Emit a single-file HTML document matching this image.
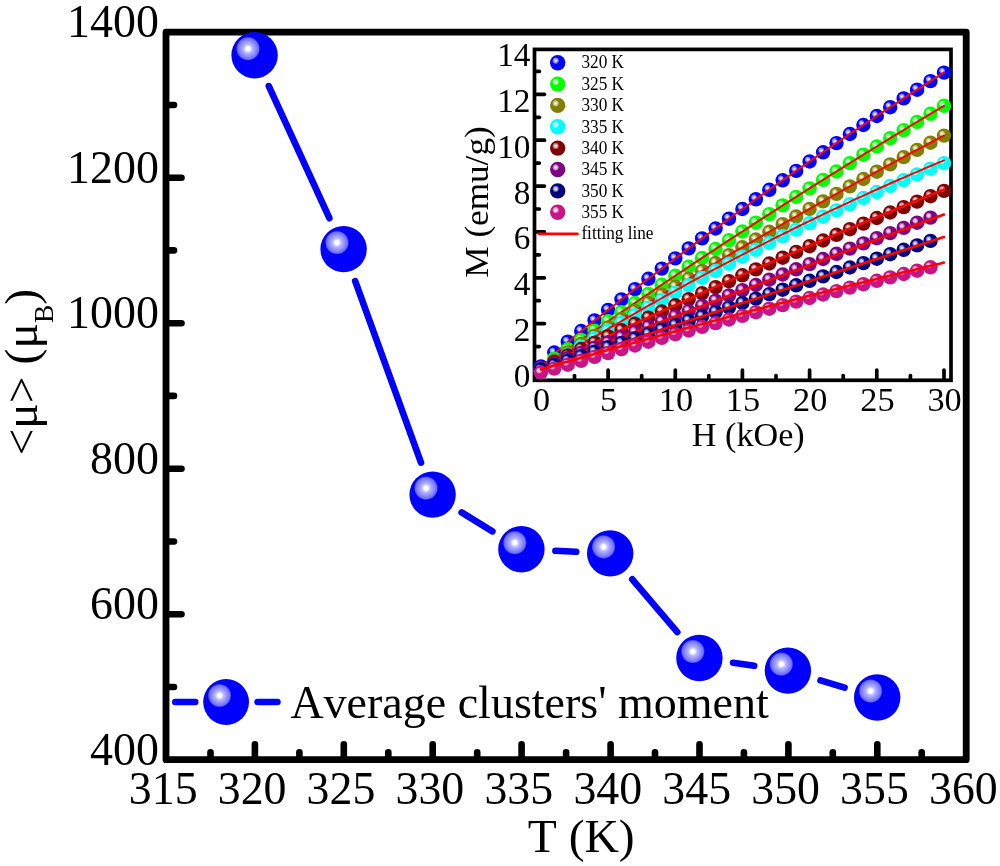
<!DOCTYPE html>
<html lang="en">
<head>
<meta charset="utf-8">
<title>Average clusters' moment vs T</title>
<style>
html,body{margin:0;padding:0;background:#fff;}
body{width:1000px;height:866px;overflow:hidden;}
svg{display:block;filter:blur(0.6px);}
svg text{font-family:"Liberation Serif", "Times New Roman", Times, serif;fill:#000;font-kerning:none;font-variant-ligatures:none;}
</style>
</head>
<body>
<svg width="1000" height="866" viewBox="0 0 1000 866" role="img" aria-label="Average clusters moment versus temperature, with inset M versus H">
<defs>
<radialGradient id="gB" cx="0.358" cy="0.360" r="0.75" fx="0.358" fy="0.360">
<stop offset="0" stop-color="#ffffff"/>
<stop offset="0.055" stop-color="#ffffff"/>
<stop offset="0.125" stop-color="#b8b8ff"/>
<stop offset="0.305" stop-color="#6c6cff"/>
<stop offset="0.345" stop-color="#0000ff"/>
<stop offset="1" stop-color="#0000ff"/>
</radialGradient>
<radialGradient id="g0" cx="0.37" cy="0.365" r="0.75" fx="0.37" fy="0.365">
<stop offset="0" stop-color="#f2f2ff"/>
<stop offset="0.08" stop-color="#d9d9ff"/>
<stop offset="0.25" stop-color="#5959ff"/>
<stop offset="0.30" stop-color="#0000ff"/>
<stop offset="1" stop-color="#0000ff"/>
</radialGradient>
<radialGradient id="g1" cx="0.37" cy="0.365" r="0.75" fx="0.37" fy="0.365">
<stop offset="0" stop-color="#f2fff2"/>
<stop offset="0.08" stop-color="#d9ffd9"/>
<stop offset="0.25" stop-color="#59ff59"/>
<stop offset="0.30" stop-color="#00ff00"/>
<stop offset="1" stop-color="#00ff00"/>
</radialGradient>
<radialGradient id="g2" cx="0.37" cy="0.365" r="0.75" fx="0.37" fy="0.365">
<stop offset="0" stop-color="#f9f9f2"/>
<stop offset="0.08" stop-color="#ececd9"/>
<stop offset="0.25" stop-color="#acac59"/>
<stop offset="0.30" stop-color="#808000"/>
<stop offset="1" stop-color="#808000"/>
</radialGradient>
<radialGradient id="g3" cx="0.37" cy="0.365" r="0.75" fx="0.37" fy="0.365">
<stop offset="0" stop-color="#f2ffff"/>
<stop offset="0.08" stop-color="#d9ffff"/>
<stop offset="0.25" stop-color="#59ffff"/>
<stop offset="0.30" stop-color="#00ffff"/>
<stop offset="1" stop-color="#00ffff"/>
</radialGradient>
<radialGradient id="g4" cx="0.37" cy="0.365" r="0.75" fx="0.37" fy="0.365">
<stop offset="0" stop-color="#f9f2f2"/>
<stop offset="0.08" stop-color="#ecd9d9"/>
<stop offset="0.25" stop-color="#ac5959"/>
<stop offset="0.30" stop-color="#800000"/>
<stop offset="1" stop-color="#800000"/>
</radialGradient>
<radialGradient id="g5" cx="0.37" cy="0.365" r="0.75" fx="0.37" fy="0.365">
<stop offset="0" stop-color="#f9f2f9"/>
<stop offset="0.08" stop-color="#ecd9ec"/>
<stop offset="0.25" stop-color="#ac59ac"/>
<stop offset="0.30" stop-color="#800080"/>
<stop offset="1" stop-color="#800080"/>
</radialGradient>
<radialGradient id="g6" cx="0.37" cy="0.365" r="0.75" fx="0.37" fy="0.365">
<stop offset="0" stop-color="#f2f2f9"/>
<stop offset="0.08" stop-color="#d9d9ec"/>
<stop offset="0.25" stop-color="#5959ac"/>
<stop offset="0.30" stop-color="#000080"/>
<stop offset="1" stop-color="#000080"/>
</radialGradient>
<radialGradient id="g7" cx="0.37" cy="0.365" r="0.75" fx="0.37" fy="0.365">
<stop offset="0" stop-color="#fcf3f9"/>
<stop offset="0.08" stop-color="#f7dced"/>
<stop offset="0.25" stop-color="#db67b0"/>
<stop offset="0.30" stop-color="#c71585"/>
<stop offset="1" stop-color="#c71585"/>
</radialGradient>
</defs>
<rect x="0" y="0" width="1000" height="866" fill="#ffffff"/>
<g id="main-frame" stroke="#000" fill="none" stroke-linecap="round">
<rect x="166.0" y="32.2" width="800.2" height="727.5" stroke-width="6.8" stroke-linejoin="round"/>
<line x1="254.9" y1="758.7" x2="254.9" y2="744.2" stroke-width="6.6"/>
<line x1="343.8" y1="758.7" x2="343.8" y2="744.2" stroke-width="6.6"/>
<line x1="432.7" y1="758.7" x2="432.7" y2="744.2" stroke-width="6.6"/>
<line x1="521.6" y1="758.7" x2="521.6" y2="744.2" stroke-width="6.6"/>
<line x1="610.6" y1="758.7" x2="610.6" y2="744.2" stroke-width="6.6"/>
<line x1="699.5" y1="758.7" x2="699.5" y2="744.2" stroke-width="6.6"/>
<line x1="788.4" y1="758.7" x2="788.4" y2="744.2" stroke-width="6.6"/>
<line x1="877.3" y1="758.7" x2="877.3" y2="744.2" stroke-width="6.6"/>
<line x1="210.5" y1="758.7" x2="210.5" y2="752.2" stroke-width="6.6"/>
<line x1="299.4" y1="758.7" x2="299.4" y2="752.2" stroke-width="6.6"/>
<line x1="388.3" y1="758.7" x2="388.3" y2="752.2" stroke-width="6.6"/>
<line x1="477.2" y1="758.7" x2="477.2" y2="752.2" stroke-width="6.6"/>
<line x1="566.1" y1="758.7" x2="566.1" y2="752.2" stroke-width="6.6"/>
<line x1="655.0" y1="758.7" x2="655.0" y2="752.2" stroke-width="6.6"/>
<line x1="743.9" y1="758.7" x2="743.9" y2="752.2" stroke-width="6.6"/>
<line x1="832.8" y1="758.7" x2="832.8" y2="752.2" stroke-width="6.6"/>
<line x1="921.7" y1="758.7" x2="921.7" y2="752.2" stroke-width="6.6"/>
<line x1="167.0" y1="687.0" x2="174.0" y2="687.0" stroke-width="6.6"/>
<line x1="167.0" y1="614.2" x2="181.5" y2="614.2" stroke-width="6.6"/>
<line x1="167.0" y1="541.5" x2="174.0" y2="541.5" stroke-width="6.6"/>
<line x1="167.0" y1="468.7" x2="181.5" y2="468.7" stroke-width="6.6"/>
<line x1="167.0" y1="395.9" x2="174.0" y2="395.9" stroke-width="6.6"/>
<line x1="167.0" y1="323.2" x2="181.5" y2="323.2" stroke-width="6.6"/>
<line x1="167.0" y1="250.4" x2="174.0" y2="250.4" stroke-width="6.6"/>
<line x1="167.0" y1="177.7" x2="181.5" y2="177.7" stroke-width="6.6"/>
<line x1="167.0" y1="105.0" x2="174.0" y2="105.0" stroke-width="6.6"/>
</g>
<g id="main-ticklabels">
<text transform="translate(163.2,804.2) scale(1.008,1)" font-size="45.5" text-anchor="middle">315</text>
<text transform="translate(252.1,804.2) scale(1.008,1)" font-size="45.5" text-anchor="middle">320</text>
<text transform="translate(341.0,804.2) scale(1.008,1)" font-size="45.5" text-anchor="middle">325</text>
<text transform="translate(429.9,804.2) scale(1.008,1)" font-size="45.5" text-anchor="middle">330</text>
<text transform="translate(518.8,804.2) scale(1.008,1)" font-size="45.5" text-anchor="middle">335</text>
<text transform="translate(607.8,804.2) scale(1.008,1)" font-size="45.5" text-anchor="middle">340</text>
<text transform="translate(696.7,804.2) scale(1.008,1)" font-size="45.5" text-anchor="middle">345</text>
<text transform="translate(785.6,804.2) scale(1.008,1)" font-size="45.5" text-anchor="middle">350</text>
<text transform="translate(874.5,804.2) scale(1.008,1)" font-size="45.5" text-anchor="middle">355</text>
<text transform="translate(963.4,804.2) scale(1.008,1)" font-size="45.5" text-anchor="middle">360</text>
<text transform="translate(158.9,764.6) scale(1.010,1)" font-size="45.5" text-anchor="end">400</text>
<text transform="translate(158.9,619.1) scale(1.010,1)" font-size="45.5" text-anchor="end">600</text>
<text transform="translate(158.9,473.6) scale(1.010,1)" font-size="45.5" text-anchor="end">800</text>
<text transform="translate(158.9,328.1) scale(1.010,1)" font-size="45.5" text-anchor="end">1000</text>
<text transform="translate(158.9,182.6) scale(1.010,1)" font-size="45.5" text-anchor="end">1200</text>
<text transform="translate(158.9,37.1) scale(1.010,1)" font-size="45.5" text-anchor="end">1400</text>
</g>
<text transform="translate(581.2,852.3) scale(1.035,1)" font-size="46" text-anchor="middle" id="xlabel">T (K)</text>
<text transform="translate(36.8,372.2) rotate(-90) scale(1.035,1)" font-size="46" text-anchor="middle" id="ylabel">&lt;μ&gt; (μ<tspan font-size="26.5" dy="16.5">B</tspan><tspan dy="-16.5">)</tspan></text>
<g id="main-series">
<g stroke="#0000ff" stroke-width="6.6" stroke-linecap="round" fill="none">
<line x1="268.8" y1="86.1" x2="329.4" y2="218.2"/>
<line x1="355.2" y1="281.1" x2="421.0" y2="462.6"/>
<line x1="461.6" y1="512.4" x2="492.4" y2="531.4"/>
<line x1="555.4" y1="550.8" x2="576.2" y2="551.8"/>
<line x1="632.3" y1="579.3" x2="677.3" y2="632.1"/>
<line x1="733.1" y1="662.8" x2="754.2" y2="665.8"/>
<line x1="820.5" y1="680.4" x2="844.6" y2="687.7"/>
</g>
<circle cx="254.6" cy="55.2" r="23.2" fill="url(#gB)"/>
<circle cx="343.6" cy="249.1" r="23.2" fill="url(#gB)"/>
<circle cx="432.6" cy="494.6" r="23.2" fill="url(#gB)"/>
<circle cx="521.4" cy="549.2" r="23.2" fill="url(#gB)"/>
<circle cx="610.2" cy="553.4" r="23.2" fill="url(#gB)"/>
<circle cx="699.4" cy="658.0" r="23.2" fill="url(#gB)"/>
<circle cx="787.9" cy="670.6" r="23.2" fill="url(#gB)"/>
<circle cx="877.2" cy="697.5" r="23.2" fill="url(#gB)"/>
</g>
<g id="main-legend">
<g stroke="#0000ff" stroke-width="6.6" stroke-linecap="round">
<line x1="175.3" y1="702.0" x2="195.2" y2="702.0"/>
<line x1="257.6" y1="702.0" x2="277.4" y2="702.0"/>
</g>
<circle cx="226.1" cy="702.0" r="22.9" fill="url(#gB)"/>
<text transform="translate(290.4,717.8) scale(1.011,1)" font-size="45.5" text-anchor="start">Average clusters' moment</text>
</g>
<g id="inset">
<rect x="534.5" y="49.4" width="416.5" height="330.9" fill="#fff" stroke="#000" stroke-width="3.7"/>
<g stroke="#000" stroke-width="3.7" stroke-linecap="round">
<line x1="540.9" y1="379.8" x2="540.9" y2="370.1"/>
<line x1="574.5" y1="379.8" x2="574.5" y2="375.5"/>
<line x1="608.1" y1="379.8" x2="608.1" y2="370.1"/>
<line x1="641.7" y1="379.8" x2="641.7" y2="375.5"/>
<line x1="675.3" y1="379.8" x2="675.3" y2="370.1"/>
<line x1="708.8" y1="379.8" x2="708.8" y2="375.5"/>
<line x1="742.4" y1="379.8" x2="742.4" y2="370.1"/>
<line x1="776.0" y1="379.8" x2="776.0" y2="375.5"/>
<line x1="809.6" y1="379.8" x2="809.6" y2="370.1"/>
<line x1="843.2" y1="379.8" x2="843.2" y2="375.5"/>
<line x1="876.8" y1="379.8" x2="876.8" y2="370.1"/>
<line x1="910.4" y1="379.8" x2="910.4" y2="375.5"/>
<line x1="944.0" y1="379.8" x2="944.0" y2="370.1"/>
<line x1="535.0" y1="369.5" x2="544.4" y2="369.5"/>
<line x1="535.0" y1="346.6" x2="539.3" y2="346.6"/>
<line x1="535.0" y1="323.6" x2="544.4" y2="323.6"/>
<line x1="535.0" y1="300.7" x2="539.3" y2="300.7"/>
<line x1="535.0" y1="277.8" x2="544.4" y2="277.8"/>
<line x1="535.0" y1="254.8" x2="539.3" y2="254.8"/>
<line x1="535.0" y1="231.9" x2="544.4" y2="231.9"/>
<line x1="535.0" y1="209.0" x2="539.3" y2="209.0"/>
<line x1="535.0" y1="186.1" x2="544.4" y2="186.1"/>
<line x1="535.0" y1="163.1" x2="539.3" y2="163.1"/>
<line x1="535.0" y1="140.2" x2="544.4" y2="140.2"/>
<line x1="535.0" y1="117.3" x2="539.3" y2="117.3"/>
<line x1="535.0" y1="94.3" x2="544.4" y2="94.3"/>
<line x1="535.0" y1="71.4" x2="539.3" y2="71.4"/>
</g>
<text transform="translate(541.5,411.4) scale(1.030,1)" font-size="33.3" text-anchor="middle">0</text>
<text transform="translate(608.7,411.4) scale(1.030,1)" font-size="33.3" text-anchor="middle">5</text>
<text transform="translate(675.9,411.4) scale(1.030,1)" font-size="33.3" text-anchor="middle">10</text>
<text transform="translate(743.0,411.4) scale(1.030,1)" font-size="33.3" text-anchor="middle">15</text>
<text transform="translate(810.2,411.4) scale(1.030,1)" font-size="33.3" text-anchor="middle">20</text>
<text transform="translate(877.4,411.4) scale(1.030,1)" font-size="33.3" text-anchor="middle">25</text>
<text transform="translate(944.6,411.4) scale(1.030,1)" font-size="33.3" text-anchor="middle">30</text>
<text transform="translate(530.5,387.0)" font-size="33.3" text-anchor="end">0</text>
<text transform="translate(530.5,341.1)" font-size="33.3" text-anchor="end">2</text>
<text transform="translate(530.5,295.3)" font-size="33.3" text-anchor="end">4</text>
<text transform="translate(530.5,249.4)" font-size="33.3" text-anchor="end">6</text>
<text transform="translate(530.5,203.6)" font-size="33.3" text-anchor="end">8</text>
<text transform="translate(530.5,157.7)" font-size="33.3" text-anchor="end">10</text>
<text transform="translate(530.5,111.8)" font-size="33.3" text-anchor="end">12</text>
<text transform="translate(530.5,66.0)" font-size="33.3" text-anchor="end">14</text>
<text transform="translate(748.3,445.7) scale(1.020,1)" font-size="33.5" text-anchor="middle">H (kOe)</text>
<text transform="translate(488.4,202.0) rotate(-90) scale(1.050,1)" font-size="33.5" text-anchor="middle">M (emu/g)</text>
<g fill="url(#g0)">
<circle cx="540.9" cy="366.4" r="7.2"/>
<circle cx="554.3" cy="352.5" r="7.2"/>
<circle cx="567.8" cy="341.7" r="7.2"/>
<circle cx="581.2" cy="331.0" r="7.2"/>
<circle cx="594.6" cy="320.4" r="7.2"/>
<circle cx="608.1" cy="309.9" r="7.2"/>
<circle cx="621.5" cy="299.4" r="7.2"/>
<circle cx="635.0" cy="289.1" r="7.2"/>
<circle cx="648.4" cy="278.8" r="7.2"/>
<circle cx="661.8" cy="268.6" r="7.2"/>
<circle cx="675.3" cy="258.4" r="7.2"/>
<circle cx="688.7" cy="248.4" r="7.2"/>
<circle cx="702.1" cy="238.4" r="7.2"/>
<circle cx="715.6" cy="228.5" r="7.2"/>
<circle cx="729.0" cy="218.7" r="7.2"/>
<circle cx="742.4" cy="209.0" r="7.2"/>
<circle cx="755.9" cy="199.3" r="7.2"/>
<circle cx="769.3" cy="189.8" r="7.2"/>
<circle cx="782.7" cy="180.3" r="7.2"/>
<circle cx="796.2" cy="170.9" r="7.2"/>
<circle cx="809.6" cy="161.5" r="7.2"/>
<circle cx="823.1" cy="152.3" r="7.2"/>
<circle cx="836.5" cy="143.1" r="7.2"/>
<circle cx="849.9" cy="134.0" r="7.2"/>
<circle cx="863.4" cy="125.0" r="7.2"/>
<circle cx="876.8" cy="116.0" r="7.2"/>
<circle cx="890.2" cy="107.2" r="7.2"/>
<circle cx="903.7" cy="98.4" r="7.2"/>
<circle cx="917.1" cy="89.7" r="7.2"/>
<circle cx="930.5" cy="81.1" r="7.2"/>
<circle cx="944.0" cy="72.6" r="7.2"/>
</g>
<polyline points="540.9,369.5 544.3,365.1 547.6,361.2 551.0,357.6 554.3,354.2 557.7,351.1 561.1,348.0 564.4,345.1 567.8,342.2 571.1,339.4 574.5,336.6 577.8,333.9 581.2,331.2 584.6,328.5 587.9,325.8 591.3,323.1 594.6,320.5 598.0,317.8 601.4,315.2 604.7,312.5 608.1,309.9 611.4,307.3 614.8,304.7 618.2,302.0 621.5,299.4 624.9,296.8 628.2,294.2 631.6,291.7 635.0,289.1 638.3,286.5 641.7,283.9 645.0,281.3 648.4,278.8 651.7,276.2 655.1,273.7 658.5,271.1 661.8,268.6 665.2,266.0 668.5,263.5 671.9,261.0 675.3,258.4 678.6,255.9 682.0,253.4 685.3,250.9 688.7,248.4 692.1,245.9 695.4,243.4 698.8,240.9 702.1,238.4 705.5,235.9 708.8,233.5 712.2,231.0 715.6,228.5 718.9,226.1 722.3,223.6 725.6,221.2 729.0,218.7 732.4,216.3 735.7,213.8 739.1,211.4 742.4,209.0 745.8,206.6 749.2,204.2 752.5,201.7 755.9,199.3 759.2,196.9 762.6,194.5 766.0,192.2 769.3,189.8 772.7,187.4 776.0,185.0 779.4,182.6 782.7,180.3 786.1,177.9 789.5,175.6 792.8,173.2 796.2,170.9 799.5,168.5 802.9,166.2 806.3,163.9 809.6,161.5 813.0,159.2 816.3,156.9 819.7,154.6 823.1,152.3 826.4,150.0 829.8,147.7 833.1,145.4 836.5,143.1 839.9,140.8 843.2,138.5 846.6,136.3 849.9,134.0 853.3,131.7 856.6,129.5 860.0,127.2 863.4,125.0 866.7,122.7 870.1,120.5 873.4,118.3 876.8,116.0 880.2,113.8 883.5,111.6 886.9,109.4 890.2,107.2 893.6,105.0 897.0,102.8 900.3,100.6 903.7,98.4 907.0,96.2 910.4,94.1 913.7,91.9 917.1,89.7 920.5,87.6 923.8,85.4 927.2,83.2 930.5,81.1 933.9,79.0 937.3,76.8 940.6,74.7 944.0,72.6" stroke="#ff0000" stroke-width="2.0" fill="none" stroke-linecap="round" stroke-linejoin="round"/>
<g fill="url(#g1)">
<circle cx="540.9" cy="368.8" r="7.2"/>
<circle cx="554.3" cy="358.7" r="7.2"/>
<circle cx="567.8" cy="349.3" r="7.2"/>
<circle cx="581.2" cy="339.9" r="7.2"/>
<circle cx="594.6" cy="330.6" r="7.2"/>
<circle cx="608.1" cy="321.3" r="7.2"/>
<circle cx="621.5" cy="312.1" r="7.2"/>
<circle cx="635.0" cy="303.0" r="7.2"/>
<circle cx="648.4" cy="293.9" r="7.2"/>
<circle cx="661.8" cy="284.8" r="7.2"/>
<circle cx="675.3" cy="275.8" r="7.2"/>
<circle cx="688.7" cy="266.8" r="7.2"/>
<circle cx="702.1" cy="257.9" r="7.2"/>
<circle cx="715.6" cy="249.0" r="7.2"/>
<circle cx="729.0" cy="240.2" r="7.2"/>
<circle cx="742.4" cy="231.5" r="7.2"/>
<circle cx="755.9" cy="222.7" r="7.2"/>
<circle cx="769.3" cy="214.1" r="7.2"/>
<circle cx="782.7" cy="205.4" r="7.2"/>
<circle cx="796.2" cy="196.9" r="7.2"/>
<circle cx="809.6" cy="188.4" r="7.2"/>
<circle cx="823.1" cy="179.9" r="7.2"/>
<circle cx="836.5" cy="171.5" r="7.2"/>
<circle cx="849.9" cy="163.1" r="7.2"/>
<circle cx="863.4" cy="154.7" r="7.2"/>
<circle cx="876.8" cy="146.5" r="7.2"/>
<circle cx="890.2" cy="138.2" r="7.2"/>
<circle cx="903.7" cy="130.1" r="7.2"/>
<circle cx="917.1" cy="121.9" r="7.2"/>
<circle cx="930.5" cy="113.8" r="7.2"/>
<circle cx="944.0" cy="105.8" r="7.2"/>
</g>
<polyline points="540.9,369.5 544.3,366.8 547.6,364.1 551.0,361.6 554.3,359.1 557.7,356.6 561.1,354.2 564.4,351.8 567.8,349.4 571.1,347.0 574.5,344.6 577.8,342.3 581.2,339.9 584.6,337.6 587.9,335.3 591.3,332.9 594.6,330.6 598.0,328.3 601.4,326.0 604.7,323.7 608.1,321.3 611.4,319.0 614.8,316.7 618.2,314.4 621.5,312.1 624.9,309.8 628.2,307.6 631.6,305.3 635.0,303.0 638.3,300.7 641.7,298.4 645.0,296.1 648.4,293.9 651.7,291.6 655.1,289.3 658.5,287.1 661.8,284.8 665.2,282.5 668.5,280.3 671.9,278.0 675.3,275.8 678.6,273.5 682.0,271.3 685.3,269.1 688.7,266.8 692.1,264.6 695.4,262.4 698.8,260.1 702.1,257.9 705.5,255.7 708.8,253.5 712.2,251.3 715.6,249.0 718.9,246.8 722.3,244.6 725.6,242.4 729.0,240.2 732.4,238.0 735.7,235.8 739.1,233.6 742.4,231.5 745.8,229.3 749.2,227.1 752.5,224.9 755.9,222.7 759.2,220.6 762.6,218.4 766.0,216.2 769.3,214.1 772.7,211.9 776.0,209.8 779.4,207.6 782.7,205.4 786.1,203.3 789.5,201.2 792.8,199.0 796.2,196.9 799.5,194.7 802.9,192.6 806.3,190.5 809.6,188.4 813.0,186.2 816.3,184.1 819.7,182.0 823.1,179.9 826.4,177.8 829.8,175.7 833.1,173.6 836.5,171.5 839.9,169.4 843.2,167.3 846.6,165.2 849.9,163.1 853.3,161.0 856.6,158.9 860.0,156.8 863.4,154.7 866.7,152.7 870.1,150.6 873.4,148.5 876.8,146.5 880.2,144.4 883.5,142.3 886.9,140.3 890.2,138.2 893.6,136.2 897.0,134.1 900.3,132.1 903.7,130.1 907.0,128.0 910.4,126.0 913.7,124.0 917.1,121.9 920.5,119.9 923.8,117.9 927.2,115.9 930.5,113.8 933.9,111.8 937.3,109.8 940.6,107.8 944.0,105.8" stroke="#ff0000" stroke-width="2.0" fill="none" stroke-linecap="round" stroke-linejoin="round"/>
<g fill="url(#g2)">
<circle cx="540.9" cy="369.4" r="7.2"/>
<circle cx="554.3" cy="360.8" r="7.2"/>
<circle cx="567.8" cy="352.4" r="7.2"/>
<circle cx="581.2" cy="344.0" r="7.2"/>
<circle cx="594.6" cy="335.7" r="7.2"/>
<circle cx="608.1" cy="327.5" r="7.2"/>
<circle cx="621.5" cy="319.2" r="7.2"/>
<circle cx="635.0" cy="311.1" r="7.2"/>
<circle cx="648.4" cy="302.9" r="7.2"/>
<circle cx="661.8" cy="294.8" r="7.2"/>
<circle cx="675.3" cy="286.8" r="7.2"/>
<circle cx="688.7" cy="278.8" r="7.2"/>
<circle cx="702.1" cy="270.9" r="7.2"/>
<circle cx="715.6" cy="263.0" r="7.2"/>
<circle cx="729.0" cy="255.1" r="7.2"/>
<circle cx="742.4" cy="247.3" r="7.2"/>
<circle cx="755.9" cy="239.5" r="7.2"/>
<circle cx="769.3" cy="231.8" r="7.2"/>
<circle cx="782.7" cy="224.1" r="7.2"/>
<circle cx="796.2" cy="216.5" r="7.2"/>
<circle cx="809.6" cy="208.9" r="7.2"/>
<circle cx="823.1" cy="201.4" r="7.2"/>
<circle cx="836.5" cy="193.9" r="7.2"/>
<circle cx="849.9" cy="186.4" r="7.2"/>
<circle cx="863.4" cy="179.0" r="7.2"/>
<circle cx="876.8" cy="171.7" r="7.2"/>
<circle cx="890.2" cy="164.4" r="7.2"/>
<circle cx="903.7" cy="157.1" r="7.2"/>
<circle cx="917.1" cy="149.9" r="7.2"/>
<circle cx="930.5" cy="142.7" r="7.2"/>
<circle cx="944.0" cy="135.6" r="7.2"/>
</g>
<polyline points="540.9,369.5 544.3,367.3 547.6,365.2 551.0,363.0 554.3,360.9 557.7,358.8 561.1,356.6 564.4,354.5 567.8,352.4 571.1,350.3 574.5,348.2 577.8,346.1 581.2,344.1 584.6,342.0 587.9,339.9 591.3,337.8 594.6,335.7 598.0,333.7 601.4,331.6 604.7,329.5 608.1,327.5 611.4,325.4 614.8,323.3 618.2,321.3 621.5,319.2 624.9,317.2 628.2,315.1 631.6,313.1 635.0,311.1 638.3,309.0 641.7,307.0 645.0,305.0 648.4,302.9 651.7,300.9 655.1,298.9 658.5,296.9 661.8,294.8 665.2,292.8 668.5,290.8 671.9,288.8 675.3,286.8 678.6,284.8 682.0,282.8 685.3,280.8 688.7,278.8 692.1,276.8 695.4,274.8 698.8,272.8 702.1,270.9 705.5,268.9 708.8,266.9 712.2,264.9 715.6,263.0 718.9,261.0 722.3,259.0 725.6,257.1 729.0,255.1 732.4,253.1 735.7,251.2 739.1,249.2 742.4,247.3 745.8,245.3 749.2,243.4 752.5,241.5 755.9,239.5 759.2,237.6 762.6,235.7 766.0,233.7 769.3,231.8 772.7,229.9 776.0,228.0 779.4,226.0 782.7,224.1 786.1,222.2 789.5,220.3 792.8,218.4 796.2,216.5 799.5,214.6 802.9,212.7 806.3,210.8 809.6,208.9 813.0,207.0 816.3,205.1 819.7,203.3 823.1,201.4 826.4,199.5 829.8,197.6 833.1,195.8 836.5,193.9 839.9,192.0 843.2,190.2 846.6,188.3 849.9,186.4 853.3,184.6 856.6,182.7 860.0,180.9 863.4,179.0 866.7,177.2 870.1,175.4 873.4,173.5 876.8,171.7 880.2,169.9 883.5,168.0 886.9,166.2 890.2,164.4 893.6,162.6 897.0,160.7 900.3,158.9 903.7,157.1 907.0,155.3 910.4,153.5 913.7,151.7 917.1,149.9 920.5,148.1 923.8,146.3 927.2,144.5 930.5,142.7 933.9,141.0 937.3,139.2 940.6,137.4 944.0,135.6" stroke="#ff0000" stroke-width="2.0" fill="none" stroke-linecap="round" stroke-linejoin="round"/>
<g fill="url(#g3)">
<circle cx="540.9" cy="371.3" r="7.2"/>
<circle cx="554.3" cy="363.0" r="7.2"/>
<circle cx="567.8" cy="354.8" r="7.2"/>
<circle cx="581.2" cy="346.7" r="7.2"/>
<circle cx="594.6" cy="338.7" r="7.2"/>
<circle cx="608.1" cy="330.8" r="7.2"/>
<circle cx="621.5" cy="322.9" r="7.2"/>
<circle cx="635.0" cy="315.2" r="7.2"/>
<circle cx="648.4" cy="307.6" r="7.2"/>
<circle cx="661.8" cy="300.0" r="7.2"/>
<circle cx="675.3" cy="292.6" r="7.2"/>
<circle cx="688.7" cy="285.2" r="7.2"/>
<circle cx="702.1" cy="277.9" r="7.2"/>
<circle cx="715.6" cy="270.8" r="7.2"/>
<circle cx="729.0" cy="263.7" r="7.2"/>
<circle cx="742.4" cy="256.7" r="7.2"/>
<circle cx="755.9" cy="249.8" r="7.2"/>
<circle cx="769.3" cy="243.0" r="7.2"/>
<circle cx="782.7" cy="236.3" r="7.2"/>
<circle cx="796.2" cy="229.7" r="7.2"/>
<circle cx="809.6" cy="223.2" r="7.2"/>
<circle cx="823.1" cy="216.7" r="7.2"/>
<circle cx="836.5" cy="210.4" r="7.2"/>
<circle cx="849.9" cy="204.2" r="7.2"/>
<circle cx="863.4" cy="198.0" r="7.2"/>
<circle cx="876.8" cy="192.0" r="7.2"/>
<circle cx="890.2" cy="186.0" r="7.2"/>
<circle cx="903.7" cy="180.2" r="7.2"/>
<circle cx="917.1" cy="174.4" r="7.2"/>
<circle cx="930.5" cy="168.7" r="7.2"/>
<circle cx="944.0" cy="163.1" r="7.2"/>
</g>
<polyline points="540.9,369.5 544.3,367.4 547.6,365.3 551.0,363.3 554.3,361.2 557.7,359.1 561.1,357.1 564.4,355.0 567.8,353.0 571.1,351.0 574.5,348.9 577.8,346.9 581.2,344.9 584.6,342.9 587.9,340.8 591.3,338.8 594.6,336.8 598.0,334.9 601.4,332.9 604.7,330.9 608.1,328.9 611.4,326.9 614.8,325.0 618.2,323.0 621.5,321.1 624.9,319.1 628.2,317.2 631.6,315.3 635.0,313.3 638.3,311.4 641.7,309.5 645.0,307.6 648.4,305.7 651.7,303.8 655.1,301.9 658.5,300.0 661.8,298.1 665.2,296.2 668.5,294.3 671.9,292.5 675.3,290.6 678.6,288.8 682.0,286.9 685.3,285.1 688.7,283.2 692.1,281.4 695.4,279.6 698.8,277.8 702.1,275.9 705.5,274.1 708.8,272.3 712.2,270.5 715.6,268.7 718.9,267.0 722.3,265.2 725.6,263.4 729.0,261.6 732.4,259.9 735.7,258.1 739.1,256.4 742.4,254.6 745.8,252.9 749.2,251.1 752.5,249.4 755.9,247.7 759.2,246.0 762.6,244.3 766.0,242.6 769.3,240.9 772.7,239.2 776.0,237.5 779.4,235.8 782.7,234.1 786.1,232.5 789.5,230.8 792.8,229.1 796.2,227.5 799.5,225.8 802.9,224.2 806.3,222.5 809.6,220.9 813.0,219.3 816.3,217.7 819.7,216.1 823.1,214.4 826.4,212.8 829.8,211.2 833.1,209.7 836.5,208.1 839.9,206.5 843.2,204.9 846.6,203.4 849.9,201.8 853.3,200.2 856.6,198.7 860.0,197.1 863.4,195.6 866.7,194.1 870.1,192.5 873.4,191.0 876.8,189.5 880.2,188.0 883.5,186.5 886.9,185.0 890.2,183.5 893.6,182.0 897.0,180.5 900.3,179.0 903.7,177.6 907.0,176.1 910.4,174.7 913.7,173.2 917.1,171.8 920.5,170.3 923.8,168.9 927.2,167.4 930.5,166.0 933.9,164.6 937.3,163.2 940.6,161.8 944.0,160.4" stroke="#ff0000" stroke-width="2.0" fill="none" stroke-linecap="round" stroke-linejoin="round"/>
<g fill="url(#g4)">
<circle cx="540.9" cy="368.9" r="7.2"/>
<circle cx="554.3" cy="361.9" r="7.2"/>
<circle cx="567.8" cy="355.4" r="7.2"/>
<circle cx="581.2" cy="349.0" r="7.2"/>
<circle cx="594.6" cy="342.7" r="7.2"/>
<circle cx="608.1" cy="336.4" r="7.2"/>
<circle cx="621.5" cy="330.1" r="7.2"/>
<circle cx="635.0" cy="323.8" r="7.2"/>
<circle cx="648.4" cy="317.6" r="7.2"/>
<circle cx="661.8" cy="311.5" r="7.2"/>
<circle cx="675.3" cy="305.3" r="7.2"/>
<circle cx="688.7" cy="299.2" r="7.2"/>
<circle cx="702.1" cy="293.2" r="7.2"/>
<circle cx="715.6" cy="287.2" r="7.2"/>
<circle cx="729.0" cy="281.2" r="7.2"/>
<circle cx="742.4" cy="275.3" r="7.2"/>
<circle cx="755.9" cy="269.4" r="7.2"/>
<circle cx="769.3" cy="263.5" r="7.2"/>
<circle cx="782.7" cy="257.7" r="7.2"/>
<circle cx="796.2" cy="251.9" r="7.2"/>
<circle cx="809.6" cy="246.2" r="7.2"/>
<circle cx="823.1" cy="240.5" r="7.2"/>
<circle cx="836.5" cy="234.8" r="7.2"/>
<circle cx="849.9" cy="229.2" r="7.2"/>
<circle cx="863.4" cy="223.6" r="7.2"/>
<circle cx="876.8" cy="218.0" r="7.2"/>
<circle cx="890.2" cy="212.5" r="7.2"/>
<circle cx="903.7" cy="207.1" r="7.2"/>
<circle cx="917.1" cy="201.6" r="7.2"/>
<circle cx="930.5" cy="196.2" r="7.2"/>
<circle cx="944.0" cy="190.9" r="7.2"/>
</g>
<polyline points="540.9,369.5 544.3,367.6 547.6,365.7 551.0,363.9 554.3,362.2 557.7,360.5 561.1,358.8 564.4,357.2 567.8,355.5 571.1,353.9 574.5,352.3 577.8,350.7 581.2,349.1 584.6,347.4 587.9,345.8 591.3,344.3 594.6,342.7 598.0,341.1 601.4,339.5 604.7,337.9 608.1,336.3 611.4,334.7 614.8,333.2 618.2,331.6 621.5,330.0 624.9,328.4 628.2,326.9 631.6,325.3 635.0,323.7 638.3,322.2 641.7,320.6 645.0,319.1 648.4,317.5 651.7,316.0 655.1,314.4 658.5,312.9 661.8,311.3 665.2,309.8 668.5,308.2 671.9,306.7 675.3,305.2 678.6,303.6 682.0,302.1 685.3,300.6 688.7,299.0 692.1,297.5 695.4,296.0 698.8,294.5 702.1,293.0 705.5,291.4 708.8,289.9 712.2,288.4 715.6,286.9 718.9,285.4 722.3,283.9 725.6,282.4 729.0,280.9 732.4,279.4 735.7,277.9 739.1,276.4 742.4,274.9 745.8,273.4 749.2,271.9 752.5,270.5 755.9,269.0 759.2,267.5 762.6,266.0 766.0,264.5 769.3,263.1 772.7,261.6 776.0,260.1 779.4,258.7 782.7,257.2 786.1,255.7 789.5,254.3 792.8,252.8 796.2,251.4 799.5,249.9 802.9,248.4 806.3,247.0 809.6,245.6 813.0,244.1 816.3,242.7 819.7,241.2 823.1,239.8 826.4,238.3 829.8,236.9 833.1,235.5 836.5,234.1 839.9,232.6 843.2,231.2 846.6,229.8 849.9,228.4 853.3,226.9 856.6,225.5 860.0,224.1 863.4,222.7 866.7,221.3 870.1,219.9 873.4,218.5 876.8,217.1 880.2,215.7 883.5,214.3 886.9,212.9 890.2,211.5 893.6,210.1 897.0,208.7 900.3,207.3 903.7,205.9 907.0,204.6 910.4,203.2 913.7,201.8 917.1,200.4 920.5,199.1 923.8,197.7 927.2,196.3 930.5,194.9 933.9,193.6 937.3,192.2 940.6,190.9 944.0,189.5" stroke="#ff0000" stroke-width="2.6" fill="none" stroke-linecap="round" stroke-linejoin="round"/>
<g fill="url(#g5)">
<circle cx="540.9" cy="369.2" r="7.2"/>
<circle cx="554.3" cy="363.5" r="7.2"/>
<circle cx="567.8" cy="358.3" r="7.2"/>
<circle cx="581.2" cy="353.0" r="7.2"/>
<circle cx="594.6" cy="347.7" r="7.2"/>
<circle cx="608.1" cy="342.5" r="7.2"/>
<circle cx="621.5" cy="337.2" r="7.2"/>
<circle cx="635.0" cy="332.0" r="7.2"/>
<circle cx="648.4" cy="326.8" r="7.2"/>
<circle cx="661.8" cy="321.5" r="7.2"/>
<circle cx="675.3" cy="316.3" r="7.2"/>
<circle cx="688.7" cy="311.0" r="7.2"/>
<circle cx="702.1" cy="305.8" r="7.2"/>
<circle cx="715.6" cy="300.6" r="7.2"/>
<circle cx="729.0" cy="295.4" r="7.2"/>
<circle cx="742.4" cy="290.2" r="7.2"/>
<circle cx="755.9" cy="285.0" r="7.2"/>
<circle cx="769.3" cy="279.7" r="7.2"/>
<circle cx="782.7" cy="274.5" r="7.2"/>
<circle cx="796.2" cy="269.3" r="7.2"/>
<circle cx="809.6" cy="264.1" r="7.2"/>
<circle cx="823.1" cy="259.0" r="7.2"/>
<circle cx="836.5" cy="253.8" r="7.2"/>
<circle cx="849.9" cy="248.6" r="7.2"/>
<circle cx="863.4" cy="243.4" r="7.2"/>
<circle cx="876.8" cy="238.2" r="7.2"/>
<circle cx="890.2" cy="233.1" r="7.2"/>
<circle cx="903.7" cy="227.9" r="7.2"/>
<circle cx="917.1" cy="222.7" r="7.2"/>
<circle cx="930.5" cy="217.6" r="7.2"/>
</g>
<polyline points="540.9,369.5 544.3,368.0 547.6,366.5 551.0,365.1 554.3,363.7 557.7,362.4 561.1,361.0 564.4,359.7 567.8,358.3 571.1,357.0 574.5,355.7 577.8,354.4 581.2,353.0 584.6,351.7 587.9,350.4 591.3,349.1 594.6,347.8 598.0,346.5 601.4,345.2 604.7,343.9 608.1,342.6 611.4,341.2 614.8,339.9 618.2,338.6 621.5,337.3 624.9,336.0 628.2,334.7 631.6,333.4 635.0,332.1 638.3,330.8 641.7,329.5 645.0,328.2 648.4,326.9 651.7,325.6 655.1,324.3 658.5,323.0 661.8,321.7 665.2,320.4 668.5,319.1 671.9,317.8 675.3,316.5 678.6,315.2 682.0,313.9 685.3,312.6 688.7,311.3 692.1,310.0 695.4,308.7 698.8,307.4 702.1,306.1 705.5,304.9 708.8,303.6 712.2,302.3 715.6,301.0 718.9,299.7 722.3,298.4 725.6,297.1 729.0,295.8 732.4,294.5 735.7,293.3 739.1,292.0 742.4,290.7 745.8,289.4 749.2,288.1 752.5,286.8 755.9,285.5 759.2,284.3 762.6,283.0 766.0,281.7 769.3,280.4 772.7,279.1 776.0,277.8 779.4,276.6 782.7,275.3 786.1,274.0 789.5,272.7 792.8,271.4 796.2,270.2 799.5,268.9 802.9,267.6 806.3,266.3 809.6,265.1 813.0,263.8 816.3,262.5 819.7,261.2 823.1,260.0 826.4,258.7 829.8,257.4 833.1,256.2 836.5,254.9 839.9,253.6 843.2,252.3 846.6,251.1 849.9,249.8 853.3,248.5 856.6,247.3 860.0,246.0 863.4,244.7 866.7,243.5 870.1,242.2 873.4,240.9 876.8,239.7 880.2,238.4 883.5,237.1 886.9,235.9 890.2,234.6 893.6,233.4 897.0,232.1 900.3,230.8 903.7,229.6 907.0,228.3 910.4,227.1 913.7,225.8 917.1,224.5 920.5,223.3 923.8,222.0 927.2,220.8 930.5,219.5 933.9,218.3 937.3,217.0 940.6,215.7 944.0,214.5" stroke="#ff0000" stroke-width="2.6" fill="none" stroke-linecap="round" stroke-linejoin="round"/>
<g fill="url(#g6)">
<circle cx="540.9" cy="369.5" r="7.2"/>
<circle cx="554.3" cy="365.1" r="7.2"/>
<circle cx="567.8" cy="360.6" r="7.2"/>
<circle cx="581.2" cy="356.2" r="7.2"/>
<circle cx="594.6" cy="351.8" r="7.2"/>
<circle cx="608.1" cy="347.3" r="7.2"/>
<circle cx="621.5" cy="342.9" r="7.2"/>
<circle cx="635.0" cy="338.5" r="7.2"/>
<circle cx="648.4" cy="334.0" r="7.2"/>
<circle cx="661.8" cy="329.6" r="7.2"/>
<circle cx="675.3" cy="325.2" r="7.2"/>
<circle cx="688.7" cy="320.7" r="7.2"/>
<circle cx="702.1" cy="316.3" r="7.2"/>
<circle cx="715.6" cy="311.9" r="7.2"/>
<circle cx="729.0" cy="307.4" r="7.2"/>
<circle cx="742.4" cy="303.0" r="7.2"/>
<circle cx="755.9" cy="298.6" r="7.2"/>
<circle cx="769.3" cy="294.1" r="7.2"/>
<circle cx="782.7" cy="289.7" r="7.2"/>
<circle cx="796.2" cy="285.3" r="7.2"/>
<circle cx="809.6" cy="280.8" r="7.2"/>
<circle cx="823.1" cy="276.4" r="7.2"/>
<circle cx="836.5" cy="272.0" r="7.2"/>
<circle cx="849.9" cy="267.5" r="7.2"/>
<circle cx="863.4" cy="263.1" r="7.2"/>
<circle cx="876.8" cy="258.7" r="7.2"/>
<circle cx="890.2" cy="254.2" r="7.2"/>
<circle cx="903.7" cy="249.8" r="7.2"/>
<circle cx="917.1" cy="245.4" r="7.2"/>
<circle cx="930.5" cy="240.9" r="7.2"/>
</g>
<polyline points="540.9,369.5 544.3,368.4 547.6,367.3 551.0,366.2 554.3,365.1 557.7,364.0 561.1,362.9 564.4,361.7 567.8,360.6 571.1,359.5 574.5,358.4 577.8,357.3 581.2,356.2 584.6,355.1 587.9,354.0 591.3,352.9 594.6,351.8 598.0,350.7 601.4,349.6 604.7,348.5 608.1,347.3 611.4,346.2 614.8,345.1 618.2,344.0 621.5,342.9 624.9,341.8 628.2,340.7 631.6,339.6 635.0,338.5 638.3,337.4 641.7,336.3 645.0,335.2 648.4,334.1 651.7,333.0 655.1,331.9 658.5,330.7 661.8,329.6 665.2,328.5 668.5,327.4 671.9,326.3 675.3,325.2 678.6,324.1 682.0,323.0 685.3,321.9 688.7,320.8 692.1,319.7 695.4,318.6 698.8,317.5 702.1,316.4 705.5,315.3 708.8,314.2 712.2,313.1 715.6,312.0 718.9,310.9 722.3,309.7 725.6,308.6 729.0,307.5 732.4,306.4 735.7,305.3 739.1,304.2 742.4,303.1 745.8,302.0 749.2,300.9 752.5,299.8 755.9,298.7 759.2,297.6 762.6,296.5 766.0,295.4 769.3,294.3 772.7,293.2 776.0,292.1 779.4,291.0 782.7,289.9 786.1,288.8 789.5,287.7 792.8,286.6 796.2,285.5 799.5,284.4 802.9,283.2 806.3,282.1 809.6,281.0 813.0,279.9 816.3,278.8 819.7,277.7 823.1,276.6 826.4,275.5 829.8,274.4 833.1,273.3 836.5,272.2 839.9,271.1 843.2,270.0 846.6,268.9 849.9,267.8 853.3,266.7 856.6,265.6 860.0,264.5 863.4,263.4 866.7,262.3 870.1,261.2 873.4,260.1 876.8,259.0 880.2,257.9 883.5,256.8 886.9,255.7 890.2,254.6 893.6,253.5 897.0,252.4 900.3,251.3 903.7,250.2 907.0,249.1 910.4,248.0 913.7,246.9 917.1,245.8 920.5,244.7 923.8,243.6 927.2,242.5 930.5,241.4 933.9,240.3 937.3,239.2 940.6,238.1 944.0,237.0" stroke="#ff0000" stroke-width="2.6" fill="none" stroke-linecap="round" stroke-linejoin="round"/>
<g fill="url(#g7)">
<circle cx="540.9" cy="372.5" r="7.2"/>
<circle cx="554.3" cy="368.6" r="7.2"/>
<circle cx="567.8" cy="364.7" r="7.2"/>
<circle cx="581.2" cy="360.8" r="7.2"/>
<circle cx="594.6" cy="356.9" r="7.2"/>
<circle cx="608.1" cy="353.1" r="7.2"/>
<circle cx="621.5" cy="349.2" r="7.2"/>
<circle cx="635.0" cy="345.5" r="7.2"/>
<circle cx="648.4" cy="341.7" r="7.2"/>
<circle cx="661.8" cy="337.9" r="7.2"/>
<circle cx="675.3" cy="334.2" r="7.2"/>
<circle cx="688.7" cy="330.5" r="7.2"/>
<circle cx="702.1" cy="326.8" r="7.2"/>
<circle cx="715.6" cy="323.1" r="7.2"/>
<circle cx="729.0" cy="319.5" r="7.2"/>
<circle cx="742.4" cy="315.8" r="7.2"/>
<circle cx="755.9" cy="312.2" r="7.2"/>
<circle cx="769.3" cy="308.7" r="7.2"/>
<circle cx="782.7" cy="305.1" r="7.2"/>
<circle cx="796.2" cy="301.6" r="7.2"/>
<circle cx="809.6" cy="298.0" r="7.2"/>
<circle cx="823.1" cy="294.5" r="7.2"/>
<circle cx="836.5" cy="291.1" r="7.2"/>
<circle cx="849.9" cy="287.6" r="7.2"/>
<circle cx="863.4" cy="284.2" r="7.2"/>
<circle cx="876.8" cy="280.8" r="7.2"/>
<circle cx="890.2" cy="277.4" r="7.2"/>
<circle cx="903.7" cy="274.0" r="7.2"/>
<circle cx="917.1" cy="270.7" r="7.2"/>
<circle cx="930.5" cy="267.3" r="7.2"/>
</g>
<polyline points="540.9,369.5 544.3,368.5 547.6,367.5 551.0,366.6 554.3,365.6 557.7,364.6 561.1,363.6 564.4,362.6 567.8,361.7 571.1,360.7 574.5,359.7 577.8,358.8 581.2,357.8 584.6,356.8 587.9,355.9 591.3,354.9 594.6,354.0 598.0,353.0 601.4,352.0 604.7,351.1 608.1,350.1 611.4,349.2 614.8,348.2 618.2,347.3 621.5,346.3 624.9,345.4 628.2,344.4 631.6,343.5 635.0,342.6 638.3,341.6 641.7,340.7 645.0,339.7 648.4,338.8 651.7,337.9 655.1,336.9 658.5,336.0 661.8,335.1 665.2,334.2 668.5,333.2 671.9,332.3 675.3,331.4 678.6,330.5 682.0,329.5 685.3,328.6 688.7,327.7 692.1,326.8 695.4,325.9 698.8,325.0 702.1,324.1 705.5,323.2 708.8,322.2 712.2,321.3 715.6,320.4 718.9,319.5 722.3,318.6 725.6,317.7 729.0,316.8 732.4,315.9 735.7,315.0 739.1,314.2 742.4,313.3 745.8,312.4 749.2,311.5 752.5,310.6 755.9,309.7 759.2,308.8 762.6,307.9 766.0,307.1 769.3,306.2 772.7,305.3 776.0,304.4 779.4,303.6 782.7,302.7 786.1,301.8 789.5,301.0 792.8,300.1 796.2,299.2 799.5,298.4 802.9,297.5 806.3,296.6 809.6,295.8 813.0,294.9 816.3,294.1 819.7,293.2 823.1,292.3 826.4,291.5 829.8,290.6 833.1,289.8 836.5,288.9 839.9,288.1 843.2,287.3 846.6,286.4 849.9,285.6 853.3,284.7 856.6,283.9 860.0,283.1 863.4,282.2 866.7,281.4 870.1,280.6 873.4,279.7 876.8,278.9 880.2,278.1 883.5,277.2 886.9,276.4 890.2,275.6 893.6,274.8 897.0,274.0 900.3,273.1 903.7,272.3 907.0,271.5 910.4,270.7 913.7,269.9 917.1,269.1 920.5,268.3 923.8,267.5 927.2,266.6 930.5,265.8 933.9,265.0 937.3,264.2 940.6,263.4 944.0,262.6" stroke="#ff0000" stroke-width="2.6" fill="none" stroke-linecap="round" stroke-linejoin="round"/>
<g id="inset-legend" font-size="17.8">
<circle cx="557.7" cy="62.7" r="7.7" fill="url(#g0)"/>
<text transform="translate(581.4,68.4) scale(0.97,1)">320 K</text>
<circle cx="557.7" cy="84.1" r="7.7" fill="url(#g1)"/>
<text transform="translate(581.4,89.8) scale(0.97,1)">325 K</text>
<circle cx="557.7" cy="105.4" r="7.7" fill="url(#g2)"/>
<text transform="translate(581.4,111.1) scale(0.97,1)">330 K</text>
<circle cx="557.7" cy="126.8" r="7.7" fill="url(#g3)"/>
<text transform="translate(581.4,132.5) scale(0.97,1)">335 K</text>
<circle cx="557.7" cy="148.1" r="7.7" fill="url(#g4)"/>
<text transform="translate(581.4,153.8) scale(0.97,1)">340 K</text>
<circle cx="557.7" cy="169.5" r="7.7" fill="url(#g5)"/>
<text transform="translate(581.4,175.2) scale(0.97,1)">345 K</text>
<circle cx="557.7" cy="190.9" r="7.7" fill="url(#g6)"/>
<text transform="translate(581.4,196.6) scale(0.97,1)">350 K</text>
<circle cx="557.7" cy="212.2" r="7.7" fill="url(#g7)"/>
<text transform="translate(581.4,217.9) scale(0.97,1)">355 K</text>
<line x1="539" y1="233.9" x2="577.5" y2="233.9" stroke="#ff0000" stroke-width="2.6" stroke-linecap="round"/>
<text transform="translate(581.4,239.4) scale(0.965,1)">fitting line</text>
</g>
</g>
</svg>
</body>
</html>
